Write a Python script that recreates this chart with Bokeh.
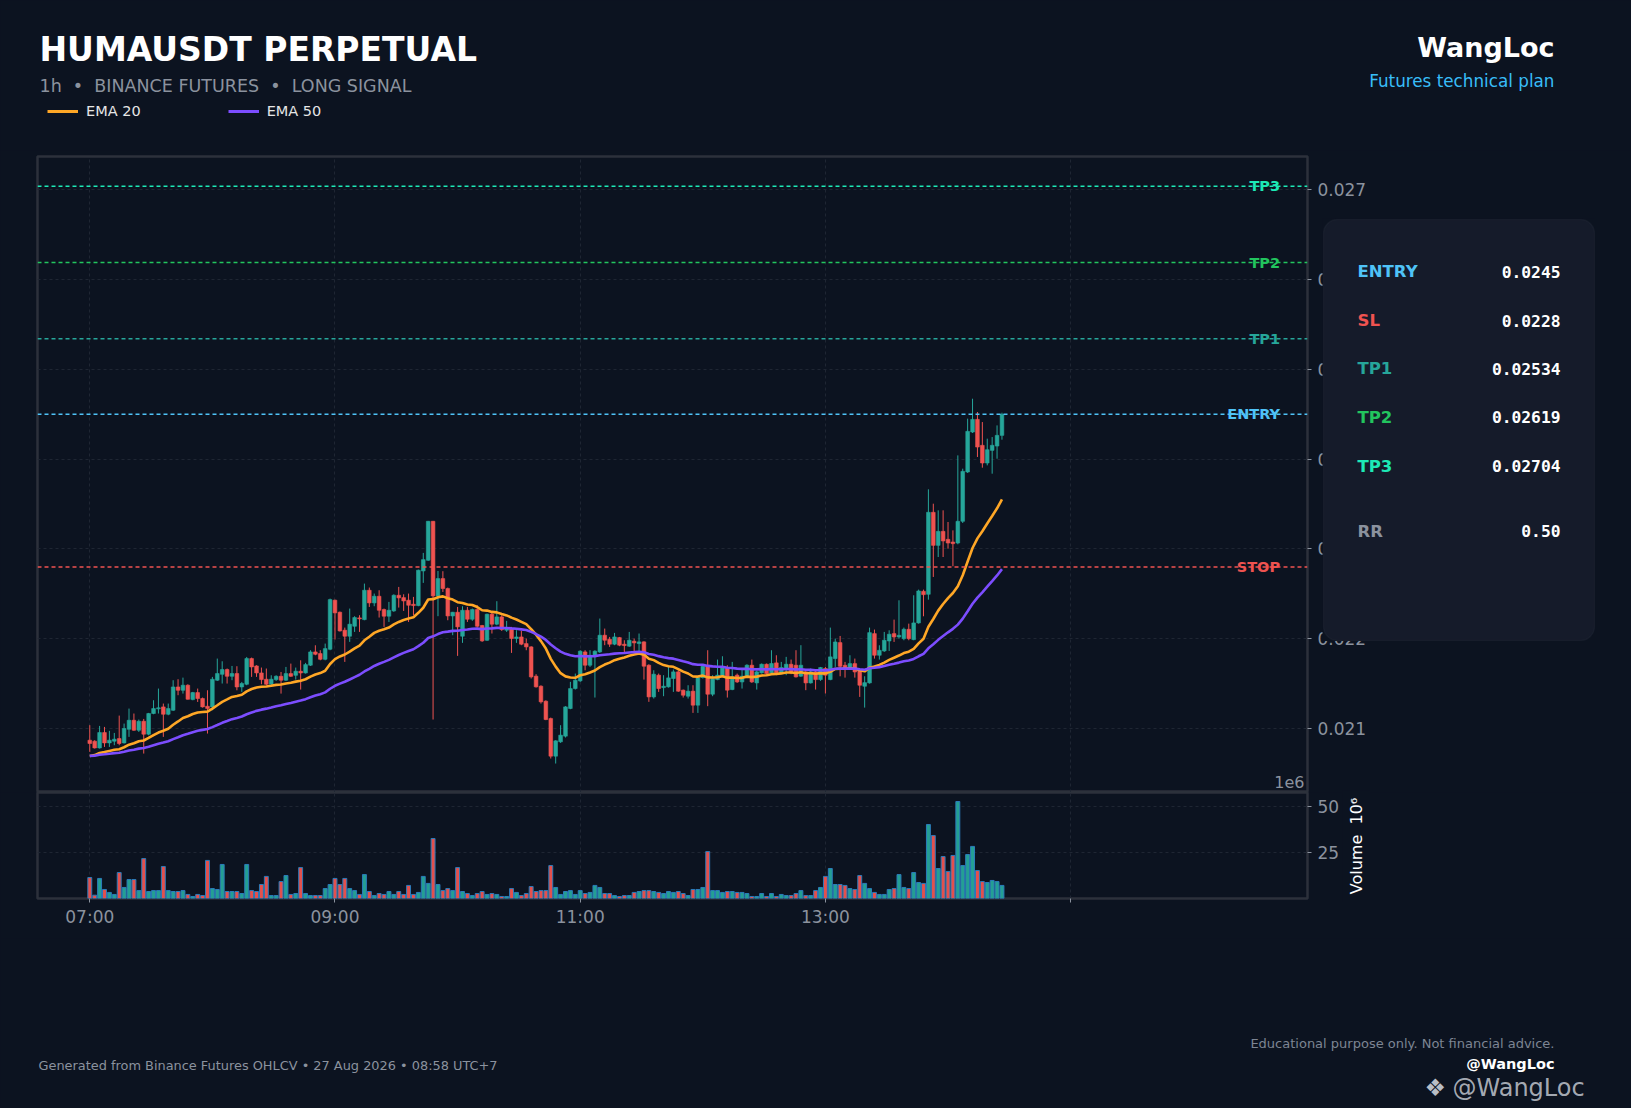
import math
from bokeh.plotting import figure
from bokeh.models import (ColumnDataSource, Span, Label, BoxAnnotation, Legend, LegendItem,
                          FixedTicker, PrintfTickFormatter, Range1d)
from bokeh.layouts import column
from bokeh.embed import file_html
from bokeh.resources import INLINE
from bokeh.core.properties import value

# ---------------- data ----------------
OPEN = [
    0.020870, 0.020859, 0.020784, 0.020955, 0.020840, 0.020859, 0.020888, 0.020840, 0.020992, 0.021092,
    0.020981, 0.021081, 0.020937, 0.021167, 0.021219, 0.021241, 0.021159, 0.021204, 0.021463, 0.021426,
    0.021482, 0.021322, 0.021400, 0.021334, 0.021248, 0.021241, 0.021538, 0.021604, 0.021656, 0.021582,
    0.021612, 0.021463, 0.021493, 0.021779, 0.021697, 0.021619, 0.021549, 0.021493, 0.021545, 0.021582,
    0.021538, 0.021612, 0.021593, 0.021638, 0.021619, 0.021705, 0.021853, 0.021835, 0.021771, 0.021883,
    0.022429, 0.022295, 0.022095, 0.022028, 0.022139, 0.022232, 0.022213, 0.022540, 0.022399, 0.022473,
    0.022325, 0.022251, 0.022310, 0.022484, 0.022458, 0.022429, 0.022384, 0.022369, 0.022755, 0.022874,
    0.023308, 0.022477, 0.022670, 0.022559, 0.022254, 0.022295, 0.022028, 0.022317, 0.022217, 0.022325,
    0.022147, 0.021983, 0.022273, 0.022162, 0.022243, 0.022095, 0.022113, 0.022002, 0.022020, 0.021946,
    0.021909, 0.021583, 0.021471, 0.021304, 0.021111, 0.020692, 0.020852, 0.020915, 0.021223, 0.021445,
    0.021531, 0.021853, 0.021705, 0.021816, 0.021853, 0.022039, 0.021994, 0.021939, 0.022013, 0.021939,
    0.021917, 0.021972, 0.021946, 0.021965, 0.021705, 0.021352, 0.021594, 0.021456, 0.021464, 0.021557,
    0.021631, 0.021427, 0.021360, 0.021416, 0.021260, 0.021568, 0.021694, 0.021382, 0.021545, 0.021583,
    0.021679, 0.021434, 0.021594, 0.021519, 0.021575, 0.021705, 0.021508, 0.021620, 0.021716, 0.021620,
    0.021731, 0.021620, 0.021668, 0.021716, 0.021705, 0.021583, 0.021631, 0.021508, 0.021631, 0.021545,
    0.021668, 0.021545, 0.021779, 0.021957, 0.021704, 0.021678, 0.021723, 0.021641, 0.021471, 0.021508,
    0.022057, 0.021816, 0.021864, 0.021975, 0.022057, 0.022020, 0.022001, 0.022105, 0.021990, 0.022176,
    0.022528, 0.022495, 0.023408, 0.023040, 0.023196, 0.023107, 0.023077, 0.023066, 0.023308, 0.023857,
    0.024302, 0.024443, 0.024154, 0.023957, 0.024098, 0.024146, 0.024265,
]
HIGH = [
    0.021037, 0.020870, 0.021029, 0.021018, 0.020974, 0.020951, 0.021144, 0.021055, 0.021222, 0.021167,
    0.021100, 0.021107, 0.021174, 0.021315, 0.021445, 0.021278, 0.021278, 0.021538, 0.021549, 0.021567,
    0.021493, 0.021408, 0.021445, 0.021345, 0.021426, 0.021575, 0.021779, 0.021749, 0.021668, 0.021697,
    0.021694, 0.021519, 0.021797, 0.021790, 0.021705, 0.021679, 0.021668, 0.021593, 0.021593, 0.021630,
    0.021686, 0.021723, 0.021679, 0.021760, 0.021731, 0.021872, 0.021927, 0.021872, 0.021946, 0.022447,
    0.022436, 0.022303, 0.022124, 0.022336, 0.022251, 0.022262, 0.022614, 0.022570, 0.022503, 0.022540,
    0.022336, 0.022410, 0.022495, 0.022577, 0.022495, 0.022503, 0.022466, 0.022770, 0.022956, 0.023312,
    0.023312, 0.022755, 0.022752, 0.022570, 0.022299, 0.022354, 0.022362, 0.022354, 0.022336, 0.022373,
    0.022154, 0.022280, 0.022288, 0.022418, 0.022262, 0.022199, 0.022132, 0.022095, 0.022087, 0.022002,
    0.021917, 0.021605, 0.021482, 0.021315, 0.021122, 0.020870, 0.021037, 0.021249, 0.021520, 0.021612,
    0.021872, 0.021872, 0.021872, 0.021872, 0.022225, 0.022113, 0.022020, 0.022065, 0.022020, 0.021983,
    0.022076, 0.022002, 0.022058, 0.021972, 0.021716, 0.021649, 0.021612, 0.021594, 0.021686, 0.021657,
    0.021649, 0.021434, 0.021482, 0.021482, 0.021583, 0.021716, 0.021872, 0.021594, 0.021768, 0.021805,
    0.021705, 0.021742, 0.021612, 0.021668, 0.021716, 0.021768, 0.021642, 0.021724, 0.021724, 0.021872,
    0.021816, 0.021742, 0.021798, 0.021768, 0.021872, 0.021928, 0.021649, 0.021668, 0.021649, 0.021686,
    0.021686, 0.022124, 0.022001, 0.022031, 0.021742, 0.021816, 0.021779, 0.021656, 0.021582, 0.022124,
    0.022102, 0.021927, 0.022076, 0.022094, 0.022213, 0.022428, 0.022124, 0.022168, 0.022484, 0.022547,
    0.022547, 0.023664, 0.023504, 0.023430, 0.023430, 0.023300, 0.023207, 0.024042, 0.023894, 0.024451,
    0.024673, 0.024525, 0.024413, 0.024228, 0.024246, 0.024376, 0.024517,
]
LOW = [
    0.020740, 0.020777, 0.020777, 0.020795, 0.020795, 0.020814, 0.020814, 0.020833, 0.020907, 0.020974,
    0.020962, 0.020721, 0.020925, 0.021159, 0.021167, 0.020907, 0.021148, 0.021196, 0.021371, 0.021389,
    0.021322, 0.021315, 0.021296, 0.021233, 0.020944, 0.021204, 0.021530, 0.021501, 0.021501, 0.021538,
    0.021426, 0.021408, 0.021482, 0.021575, 0.021575, 0.021493, 0.021482, 0.021482, 0.021530, 0.021389,
    0.021530, 0.021575, 0.021545, 0.021434, 0.021612, 0.021697, 0.021816, 0.021760, 0.021760, 0.021872,
    0.021991, 0.022080, 0.021742, 0.021965, 0.022076, 0.022076, 0.022206, 0.022354, 0.022362, 0.022236,
    0.022132, 0.022187, 0.022299, 0.022347, 0.022310, 0.022187, 0.022262, 0.022362, 0.022622, 0.022867,
    0.021100, 0.022251, 0.022521, 0.022206, 0.022039, 0.021809, 0.021954, 0.022187, 0.022199, 0.022124,
    0.021965, 0.021976, 0.022058, 0.022150, 0.022087, 0.022076, 0.021842, 0.021954, 0.021928, 0.021872,
    0.021557, 0.021456, 0.021278, 0.021093, 0.020666, 0.020610, 0.020840, 0.020900, 0.021215, 0.021434,
    0.021519, 0.021649, 0.021686, 0.021345, 0.021842, 0.021928, 0.021909, 0.021928, 0.021917, 0.021835,
    0.021909, 0.021853, 0.021835, 0.021545, 0.021297, 0.021334, 0.021408, 0.021360, 0.021456, 0.021408,
    0.021408, 0.021345, 0.021334, 0.021174, 0.021174, 0.021557, 0.021249, 0.021360, 0.021538, 0.021575,
    0.021345, 0.021427, 0.021508, 0.021445, 0.021568, 0.021508, 0.021434, 0.021612, 0.021605, 0.021612,
    0.021594, 0.021612, 0.021594, 0.021605, 0.021568, 0.021575, 0.021427, 0.021501, 0.021434, 0.021531,
    0.021390, 0.021538, 0.021686, 0.021582, 0.021567, 0.021656, 0.021567, 0.021352, 0.021233, 0.021500,
    0.021779, 0.021768, 0.021853, 0.021864, 0.021964, 0.022001, 0.021983, 0.021983, 0.021983, 0.022168,
    0.022250, 0.022435, 0.022688, 0.022910, 0.022910, 0.023003, 0.022807, 0.023052, 0.023289, 0.023846,
    0.024291, 0.024024, 0.023905, 0.023931, 0.023838, 0.024005, 0.024217,
]
CLOSE = [
    0.020833, 0.020784, 0.020955, 0.020840, 0.020870, 0.020881, 0.020833, 0.021000, 0.021092, 0.020981,
    0.021081, 0.020937, 0.021167, 0.021222, 0.021230, 0.021159, 0.021222, 0.021463, 0.021426, 0.021482,
    0.021326, 0.021400, 0.021334, 0.021241, 0.021222, 0.021549, 0.021612, 0.021656, 0.021582, 0.021612,
    0.021463, 0.021501, 0.021779, 0.021686, 0.021619, 0.021545, 0.021493, 0.021549, 0.021582, 0.021538,
    0.021612, 0.021582, 0.021638, 0.021619, 0.021712, 0.021853, 0.021827, 0.021771, 0.021890, 0.022436,
    0.022288, 0.022087, 0.022028, 0.022162, 0.022236, 0.022221, 0.022540, 0.022399, 0.022473, 0.022317,
    0.022251, 0.022317, 0.022484, 0.022455, 0.022421, 0.022373, 0.022369, 0.022763, 0.022881, 0.023308,
    0.022477, 0.022670, 0.022559, 0.022254, 0.022295, 0.022132, 0.022317, 0.022217, 0.022325, 0.022139,
    0.021976, 0.022273, 0.022162, 0.022243, 0.022102, 0.022113, 0.022002, 0.022020, 0.021939, 0.021909,
    0.021575, 0.021464, 0.021297, 0.021100, 0.020692, 0.020863, 0.020926, 0.021241, 0.021445, 0.021538,
    0.021861, 0.021705, 0.021816, 0.021861, 0.022039, 0.021983, 0.021939, 0.022020, 0.021928, 0.021924,
    0.021983, 0.021954, 0.021965, 0.021694, 0.021352, 0.021605, 0.021445, 0.021471, 0.021564, 0.021631,
    0.021416, 0.021371, 0.021416, 0.021260, 0.021568, 0.021694, 0.021382, 0.021557, 0.021594, 0.021679,
    0.021427, 0.021575, 0.021519, 0.021583, 0.021705, 0.021519, 0.021631, 0.021716, 0.021612, 0.021724,
    0.021620, 0.021679, 0.021716, 0.021620, 0.021575, 0.021705, 0.021508, 0.021631, 0.021545, 0.021679,
    0.021594, 0.021798, 0.021964, 0.021693, 0.021667, 0.021723, 0.021630, 0.021482, 0.021511, 0.022068,
    0.021816, 0.021871, 0.021983, 0.022050, 0.022020, 0.022038, 0.022105, 0.022001, 0.022176, 0.022532,
    0.022491, 0.023408, 0.023040, 0.023196, 0.023089, 0.023066, 0.023059, 0.023308, 0.023864, 0.024310,
    0.024443, 0.024135, 0.023957, 0.024105, 0.024154, 0.024265, 0.024499,
]
VOLUME_M = [
    11.4, 1.8, 10.9, 4.9, 3.3, 2.2, 14.1, 6.0, 10.3, 10.3,
    4.3, 21.7, 3.8, 4.3, 4.3, 17.4, 4.3, 3.8, 3.8, 4.3,
    2.2, 1.1, 2.2, 1.6, 20.7, 5.4, 4.9, 18.5, 3.8, 3.8,
    3.8, 2.7, 18.5, 4.3, 3.8, 7.6, 12.0, 1.6, 1.6, 9.2,
    12.5, 2.2, 2.7, 16.8, 2.7, 1.6, 1.6, 1.6, 5.4, 7.6,
    10.9, 7.6, 10.9, 5.4, 4.3, 2.2, 13.0, 3.8, 1.6, 2.7,
    2.2, 3.8, 2.2, 3.8, 2.2, 7.1, 2.2, 3.3, 12.0, 8.2,
    32.6, 7.6, 4.3, 5.4, 4.3, 16.8, 3.8, 2.7, 1.6, 2.7,
    3.8, 2.2, 2.7, 2.2, 1.1, 1.1, 5.4, 3.3, 1.6, 2.7,
    6.5, 3.8, 4.3, 4.3, 17.9, 6.0, 2.2, 3.8, 4.3, 2.2,
    4.3, 2.7, 3.3, 7.1, 6.0, 2.7, 2.7, 1.6, 1.1, 1.6,
    1.6, 3.3, 3.8, 4.3, 4.3, 3.8, 3.3, 2.7, 3.8, 3.3,
    3.8, 2.7, 1.6, 4.9, 4.9, 6.0, 25.5, 4.3, 4.3, 3.3,
    3.8, 3.8, 3.3, 3.3, 2.7, 1.1, 1.1, 2.7, 1.1, 2.7,
    1.1, 2.2, 1.6, 1.6, 2.7, 4.3, 1.6, 1.6, 4.3, 6.0,
    12.0, 16.3, 7.6, 7.6, 7.1, 5.4, 4.9, 12.5, 8.2, 5.4,
    3.3, 2.2, 2.2, 4.9, 5.4, 13.0, 6.0, 5.4, 14.1, 8.7,
    8.2, 40.2, 34.2, 16.3, 22.8, 14.7, 23.4, 52.7, 17.9, 23.9,
    28.3, 15.2, 9.2, 8.7, 9.8, 9.2, 7.1,
]
EMA_SEED = 0.020695          # starting value of both EMA lines
EMA_SPANS = [20, 50]
EMA_NAMES = ["EMA 20", "EMA 50"]

X_TICKS = [0, 50, 100, 150, 200]
X_TICK_LABELS = ["07:00", "09:00", "11:00", "13:00", ""]
PRICE_TICKS = [0.021, 0.022, 0.023, 0.024, 0.025, 0.026, 0.027]
VOLUME_TICKS = [25, 50]

LEVEL_NAMES = ["TP3", "TP2", "TP1", "ENTRY", "STOP"]
LEVEL_VALUES = [0.02704, 0.02619, 0.02534, 0.0245, 0.0228]

PANEL_LABELS = ["ENTRY", "SL", "TP1", "TP2", "TP3", "RR"]
PANEL_VALUES = ["0.0245", "0.0228", "0.02534", "0.02619", "0.02704", "0.50"]

NB = "\u00a0"
TITLE = "HUMAUSDT PERPETUAL"
SUBTITLE = f"1h{NB}{NB}\u2022{NB}{NB}BINANCE FUTURES{NB}{NB}\u2022{NB}{NB}LONG SIGNAL"
BRAND = "WangLoc"
BRAND_SUB = "Futures technical plan"
VOLUME_LABEL = f"Volume{NB}{NB}10\u2076"
OFFSET_TEXT = "1e6"
FOOT_LEFT = "Generated from Binance Futures OHLCV \u2022 27 Aug 2026 \u2022 08:58 UTC+7"
FOOT_RIGHT = "Educational purpose only. Not financial advice."
HANDLE = "@WangLoc"

# ---------------- style ----------------
BG = "#0c1320"
GRID = "#1f2633"
BORDER = "#2c313b"
MUTED = "#8b929e"
UP = "#26a69a"
DOWN = "#ef5350"
EMA_COLORS = ["#ffa726", "#7c4dff"]
LEVEL_COLORS = ["#1de9b6", "#22c55e", "#26a69a", "#4fc3f7", "#ef5350"]
PANEL_COLORS = ["#4fc3f7", "#ef5350", "#26a69a", "#22c55e", "#1de9b6", "#8b929e"]
FONT = "DejaVu Sans"
MONO = "DejaVu Sans Mono"

W = 1631
HEAD_H = 150
PRICE_H = 642
VOL_H = 146
FOOT_H = 168
B_LEFT = 37
B_RIGHT = 324

# ---------------- derived series ----------------
N = len(CLOSE)
idx = list(range(N))
colors = [UP if c >= o else DOWN for o, c in zip(OPEN, CLOSE)]


def ema(vals, span, seed):
    a = 2.0 / (span + 1)
    out = [seed]
    for v in vals[1:]:
        out.append(a * v + (1 - a) * out[-1])
    return out


src = ColumnDataSource(dict(
    x=idx, open=OPEN, high=HIGH, low=LOW, close=CLOSE,
    top=[max(o, c) for o, c in zip(OPEN, CLOSE)],
    bottom=[min(o, c) for o, c in zip(OPEN, CLOSE)],
    color=colors, vol=VOLUME_M,
    ema20=ema(CLOSE, EMA_SPANS[0], EMA_SEED),
    ema50=ema(CLOSE, EMA_SPANS[1], EMA_SEED),
))

x_range = Range1d(-10.66, 248.3)


def style_axis(ax):
    ax.axis_line_color = None
    ax.major_tick_line_color = MUTED
    ax.major_tick_out = 4
    ax.major_tick_in = 0
    ax.minor_tick_line_color = None
    ax.major_label_text_color = MUTED
    ax.major_label_text_font = FONT
    ax.major_label_text_font_size = "17px"
    ax.major_label_standoff = 6


def style_fig(p):
    p.background_fill_color = BG
    p.border_fill_color = BG
    p.outline_line_color = BORDER
    p.outline_line_width = 2.5
    for g in p.grid:
        g.grid_line_color = GRID
        g.grid_line_dash = "3 3"
        g.grid_line_width = 1


def canvas_fig(w, h, x0, y0):
    """A figure whose frame is its whole canvas; data units equal page pixels."""
    f = figure(width=w, height=h, x_range=Range1d(x0, x0 + w), y_range=Range1d(y0 + h, y0),
               output_backend="svg", toolbar_location=None, title=None,
               x_axis_location=None, y_axis_location=None, min_border=0,
               frame_align=False, sizing_mode="fixed")
    f.background_fill_color = BG
    f.border_fill_color = BG
    f.outline_line_color = None
    f.grid.visible = False
    return f


def floating(f, x0, y0, w, h):
    f.styles = {"position": "absolute", "left": f"{x0}px", "top": f"{y0}px",
                "width": f"{w}px", "height": f"{h}px", "z-index": "10"}


def txt(f, text, x, y, size, color, align="left", baseline="middle", bold=False,
        font=FONT, alpha=1.0, angle=0.0):
    f.add_layout(Label(x=x, y=y, text=text, text_color=color, text_align=align,
                       text_baseline=baseline, text_font=font, text_font_size=size,
                       text_alpha=alpha, angle=angle,
                       text_font_style="bold" if bold else "normal"))


# ---------------- header ----------------
head = canvas_fig(W, HEAD_H, 0, 0)
txt(head, TITLE, 39, 48.6, "33px", "#ffffff", bold=True)
txt(head, SUBTITLE, 39, 85.7, "17.5px", MUTED)
txt(head, BRAND, 1554, 47.3, "27px", "#ffffff", align="right", bold=True)
txt(head, BRAND_SUB, 1554, 80, "16.8px", "#38bdf8", align="right")
k20 = head.line([-50, -40], [-50, -50], color=EMA_COLORS[0], line_width=3)
k50 = head.line([-50, -40], [-50, -50], color=EMA_COLORS[1], line_width=3)
legend = Legend(items=[LegendItem(label=EMA_NAMES[0], renderers=[k20]),
                       LegendItem(label=EMA_NAMES[1], renderers=[k50])],
                orientation="horizontal", location=(47, HEAD_H - 120),
                background_fill_alpha=0, border_line_alpha=0,
                label_text_color="#e6e6e6", label_text_font=FONT,
                label_text_font_size="14.5px", glyph_width=31, glyph_height=18,
                label_height=18, label_standoff=8, spacing=87, padding=0, margin=0)
head.add_layout(legend, "center")

# ---------------- price figure ----------------
p = figure(width=W, height=PRICE_H, x_range=x_range,
           y_range=Range1d(0.0202875, 0.0273707),
           output_backend="svg", toolbar_location=None, title=None,
           x_axis_location=None, y_axis_location="right",
           min_border_left=B_LEFT, min_border_right=B_RIGHT,
           min_border_top=6, min_border_bottom=0)
style_fig(p)
p.xgrid.ticker = FixedTicker(ticks=X_TICKS)
p.yaxis.ticker = FixedTicker(ticks=PRICE_TICKS)
p.yaxis.formatter = PrintfTickFormatter(format="%.3f")
style_axis(p.yaxis[0])

p.segment(x0="x", y0="low", x1="x", y1="high", color="color", line_width=1, source=src)
p.vbar(x="x", width=0.75, top="top", bottom="bottom", fill_color="color",
       line_color="color", line_width=0.6, source=src)
p.line("x", "ema20", color=EMA_COLORS[0], line_width=2.6, source=src)
p.line("x", "ema50", color=EMA_COLORS[1], line_width=2.6, source=src)

lvl_src = ColumnDataSource(dict(x=[x_range.end - 5.6] * len(LEVEL_VALUES), y=LEVEL_VALUES,
                                text=LEVEL_NAMES, color=LEVEL_COLORS))
p.text(x="x", y="y", text="text", text_color="color", text_align="right",
       text_baseline="middle", text_font=value(FONT), text_font_style="bold",
       text_font_size="14.5px", source=lvl_src)
for lv, col in zip(LEVEL_VALUES, LEVEL_COLORS):
    p.add_layout(Span(location=lv, dimension="width", line_color=col,
                      line_dash="4 3", line_width=1.5))
p.add_layout(Label(x=W - B_RIGHT - B_LEFT - 3, y=10.5, x_units="screen", y_units="screen",
                   text=OFFSET_TEXT, text_color=MUTED, text_align="right", text_baseline="middle",
                   text_font=FONT, text_font_size="16px"))

# ---------------- volume figure ----------------
v = figure(width=W, height=VOL_H, x_range=x_range, y_range=Range1d(0, 57.6),
           output_backend="svg", toolbar_location=None, title=None,
           y_axis_location="right",
           min_border_left=B_LEFT, min_border_right=B_RIGHT,
           min_border_top=0, min_border_bottom=VOL_H - 106)
style_fig(v)
v.xaxis.ticker = FixedTicker(ticks=X_TICKS)
v.xaxis.major_label_overrides = {t: l for t, l in zip(X_TICKS, X_TICK_LABELS)}
v.yaxis.ticker = FixedTicker(ticks=VOLUME_TICKS)
style_axis(v.xaxis[0])
style_axis(v.yaxis[0])
v.xaxis.major_label_standoff = 4

v.vbar(x="x", width=0.8, top="vol", bottom=0, fill_color="color", fill_alpha=0.95,
       line_color="#2b7bba", line_width=1, source=src)

# volume axis title, reading bottom-to-top beside the volume axis
VX0, VY0, VW, VH = 1342, 790, 28, 112
vlab = canvas_fig(VW, VH, VX0, VY0)
txt(vlab, VOLUME_LABEL, 1355.5, 845.5, "16px", "#ffffff", align="center", angle=math.pi / 2)
floating(vlab, VX0, VY0, VW, VH)

# ---------------- footer ----------------
foot = canvas_fig(W, FOOT_H, 0, HEAD_H + PRICE_H + VOL_H)
txt(foot, FOOT_LEFT, 38, 1064.5, "12.9px", MUTED)
txt(foot, FOOT_RIGHT, 1554, 1043, "13px", "#7d8593", align="right")
txt(foot, HANDLE, 1554, 1063.5, "14.5px", "#ffffff", align="right", bold=True)
txt(foot, "\u2756", 1424, 1087, "24px", "#b9bec6")
txt(foot, HANDLE, 1452, 1087, "24px", "#b9bec6", alpha=0.9)

# ---------------- trade-plan panel (floats over the price axis) ----------------
PX0, PY0, PW, PH = 1322, 218, 273, 423
panel = canvas_fig(PW, PH, PX0, PY0)
panel.add_layout(BoxAnnotation(left=PX0 + 1, right=PX0 + PW - 1, top=PY0 + 1, bottom=PY0 + PH - 1,
                               fill_color="#151b2a", fill_alpha=1.0, line_color="#272e3b",
                               line_width=1.5, border_radius=14))
ROW_Y = [271, 320, 368.3, 416.7, 465.7, 530.7]
for lab, val, col, ry in zip(PANEL_LABELS, PANEL_VALUES, PANEL_COLORS, ROW_Y):
    txt(panel, lab, 1357, ry, "16.5px", col, bold=True)
    txt(panel, val, 1560, ry, "16.3px", "#ffffff", align="right", bold=True, font=MONO)
floating(panel, PX0, PY0, PW, PH)

layout = column(head, p, v, foot, panel, vlab, spacing=0)
layout.styles = {"position": "relative"}

html = file_html(layout, INLINE, title=TITLE)
html = html.replace("</head>", "<style>html, body {background-color: #0c1320; margin: 0;}</style></head>", 1)
open("out.html", "w").write(html)
